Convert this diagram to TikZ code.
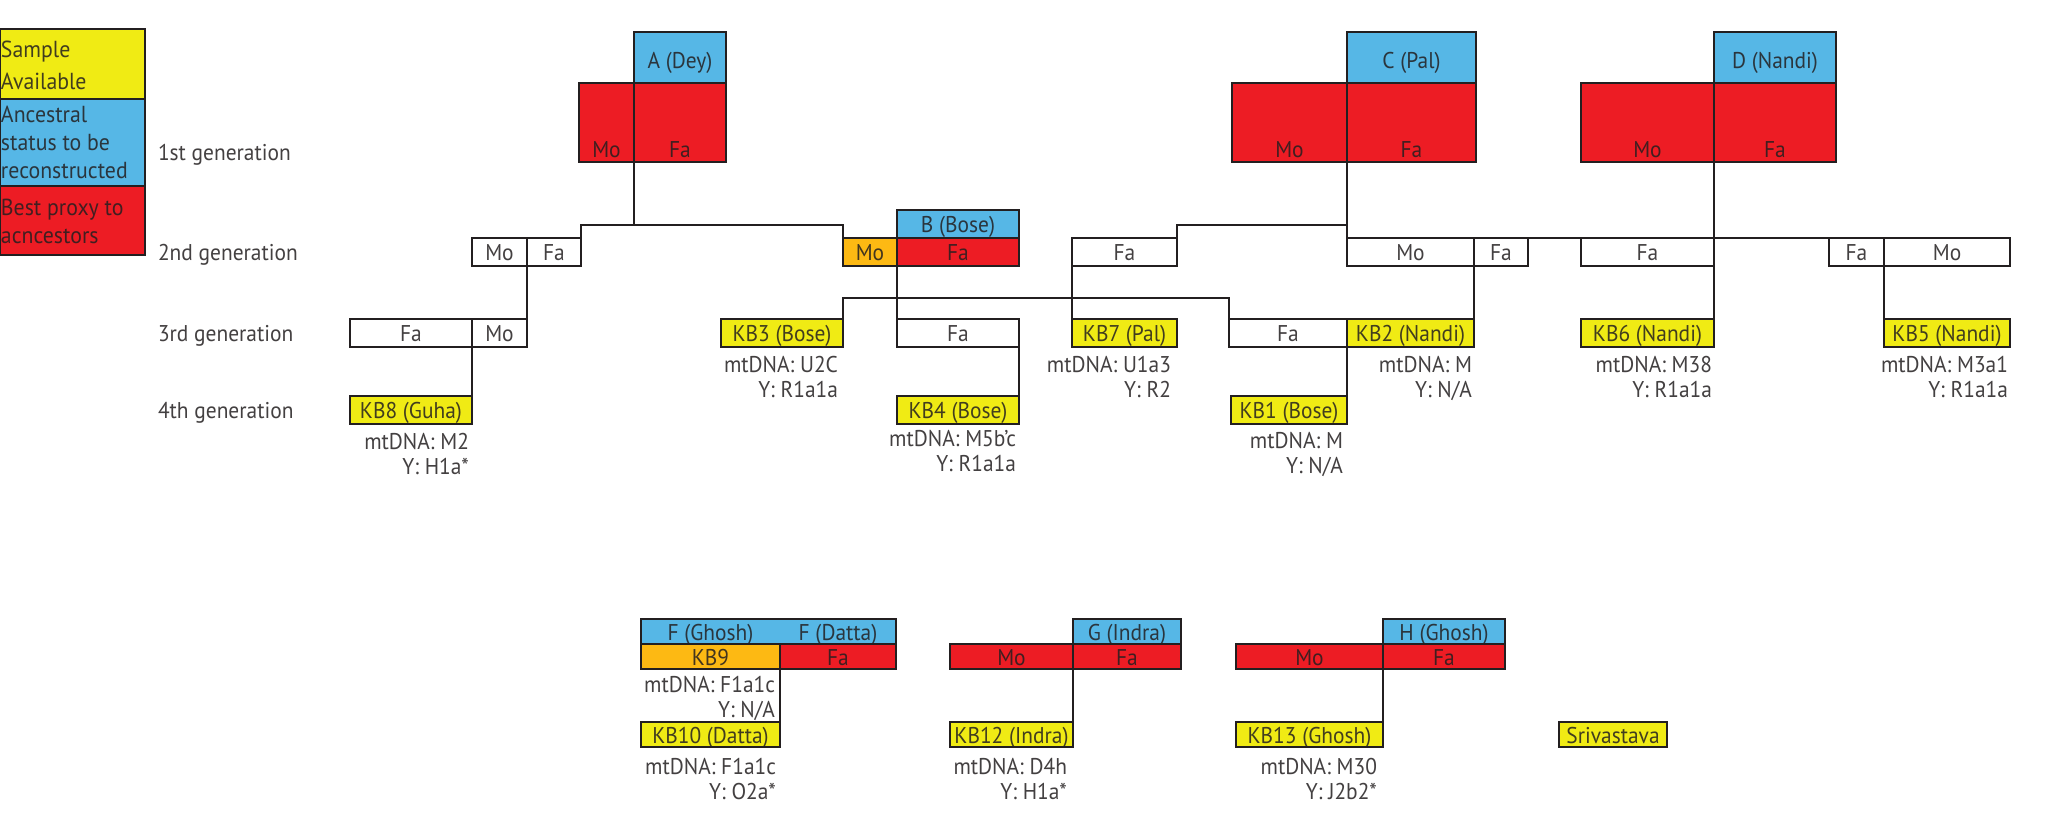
\documentclass[tikz,border=0pt]{standalone}
\usepackage{fontspec}
\setmainfont{PT Sans}[FakeStretch=0.94]
\usetikzlibrary{fit}
\definecolor{cy}{HTML}{F0EB14}
\definecolor{cb}{HTML}{56B7E6}
\definecolor{cr}{HTML}{ED1C24}
\definecolor{co}{HTML}{FDB913}
\definecolor{ink}{HTML}{231F20}
% name, style, corner1, corner2, text, baseline above bottom
\newcommand\cellnode[6]{\node[#2, fit={(#3)(#4)}] (#1) {};
  \node[lbl, anchor=base, yshift=#6] (#1t) at (#1.south) {#5};}
\begin{document}
\begin{tikzpicture}[x=0.5pt,y=-0.5pt,
 base/.style={inner sep=0pt, outer sep=0pt, font=\fontsize{11.4}{13}\selectfont, text=ink, text opacity=0.85},
 cell/.style={inner sep=0pt, outer sep=0pt, draw=ink, line width=0.65pt},
 bare/.style={inner sep=0pt, outer sep=0pt},
 yb/.style={fill=cy}, bb/.style={fill=cb}, rb/.style={fill=cr}, ob/.style={fill=co}, wb/.style={fill=white},
 lbl/.style={base},
 info/.style={base, align=right, font=\fontsize{11.4}{12.5}\selectfont, anchor=base east},
 link/.style={draw=ink, line width=0.65pt},
 thicklink/.style={draw=ink, line width=1.1pt}]
\useasboundingbox[fill=white] (0,0) rectangle (2046,816);

% legend
\node[cell,yb,fit={(0,29)(145,99)}] (legY) {};
\node[cell,bb,fit={(0,99)(145,186)}] (legB) {};
\node[cell,rb,fit={(0,186)(145,255)}] (legR) {};
\node[lbl, anchor=base west, align=left, font=\fontsize{11.6}{16}\selectfont] (legYt) at (1,89) {Sample\\Available};
\node[lbl, anchor=base west, align=left, font=\fontsize{11.6}{14}\selectfont] (legBt) at (1,178) {Ancestral\\status to be\\reconstructed};
\node[lbl, anchor=base west, align=left, font=\fontsize{11.6}{14}\selectfont] (legRt) at (1,243) {Best proxy to\\acncestors};

% generation labels
\node[lbl, anchor=base west] (gen1) at (158,160) {1st generation};
\node[lbl, anchor=base west] (gen2) at (158,260) {2nd generation};
\node[lbl, anchor=base west] (gen3) at (158,341) {3rd generation};
\node[lbl, anchor=base west] (gen4) at (158,418) {4th generation};

% 1st generation
\cellnode{aD}{cell,bb}{634,32}{726,83}{A (Dey)}{7.5pt}
\cellnode{aMo}{cell,rb}{579,83}{634,162}{Mo}{2.5pt}
\cellnode{aFa}{cell,rb}{634,83}{726,162}{Fa}{2.5pt}
\cellnode{cD}{cell,bb}{1347,32}{1476,83}{C (Pal)}{7.5pt}
\cellnode{cMo}{cell,rb}{1232,83}{1347,162}{Mo}{2.5pt}
\cellnode{cFa}{cell,rb}{1347,83}{1476,162}{Fa}{2.5pt}
\cellnode{dD}{cell,bb}{1714,32}{1836,83}{D (Nandi)}{7.5pt}
\cellnode{dMo}{cell,rb}{1581,83}{1714,162}{Mo}{2.5pt}
\cellnode{dFa}{cell,rb}{1714,83}{1836,162}{Fa}{2.5pt}

% 2nd generation
\cellnode{g2LMo}{cell,wb}{472,238}{527,266}{Mo}{3pt}
\cellnode{g2LFa}{cell,wb}{527,238}{581,266}{Fa}{3pt}
\cellnode{bD}{cell,bb}{897,210}{1019,238}{B (Bose)}{3pt}
\cellnode{bMo}{cell,ob}{843,238}{897,266}{Mo}{3pt}
\cellnode{bFa}{cell,rb}{897,238}{1019,266}{Fa}{3pt}
\cellnode{g2cFa}{cell,wb}{1072,238}{1177,266}{Fa}{3pt}
\cellnode{g2rMo}{cell,wb}{1347,238}{1474,266}{Mo}{3pt}
\cellnode{g2rFa}{cell,wb}{1474,238}{1528,266}{Fa}{3pt}
\cellnode{g2dFa}{cell,wb}{1581,238}{1714,266}{Fa}{3pt}
\cellnode{g2sFa}{cell,wb}{1829,238}{1884,266}{Fa}{3pt}
\cellnode{g2sMo}{cell,wb}{1884,238}{2010,266}{Mo}{3pt}

% 3rd generation
\cellnode{g3LFa}{cell,wb}{350,319}{472,347}{Fa}{3pt}
\cellnode{g3LMo}{cell,wb}{472,319}{527,347}{Mo}{3pt}
\cellnode{kb3}{cell,yb}{721,319}{843,347}{KB3 (Bose)}{3pt}
\cellnode{g3bFa}{cell,wb}{897,319}{1019,347}{Fa}{3pt}
\cellnode{kb7}{cell,yb}{1072,319}{1177,347}{KB7 (Pal)}{3pt}
\cellnode{g3kFa}{cell,wb}{1229,319}{1347,347}{Fa}{3pt}
\cellnode{kb2}{cell,yb}{1347,319}{1474,347}{KB2 (Nandi)}{3pt}
\cellnode{kb6}{cell,yb}{1581,319}{1714,347}{KB6 (Nandi)}{3pt}
\cellnode{kb5}{cell,yb}{1884,319}{2010,347}{KB5 (Nandi)}{3pt}

% 4th generation
\cellnode{kb8}{cell,yb}{350,396}{472,424}{KB8 (Guha)}{3pt}
\cellnode{kb4}{cell,yb}{897,396}{1019,424}{KB4 (Bose)}{3pt}
\cellnode{kb1}{cell,yb}{1231,396}{1347,424}{KB1 (Bose)}{3pt}

% haplogroup info (anchor = baseline of the last line)
\node[info] (kb3i) at (838,397) {mtDNA: U2C\\Y: R1a1a};
\node[info] (kb7i) at (1171,397) {mtDNA: U1a3\\Y: R2};
\node[info] (kb2i) at (1472,397) {mtDNA: M\\Y: N/A};
\node[info] (kb6i) at (1712,397) {mtDNA: M38\\Y: R1a1a};
\node[info] (kb5i) at (2008,397) {mtDNA: M3a1\\Y: R1a1a};
\node[info] (kb8i) at (469,474) {mtDNA: M2\\Y: H1a*};
\node[info] (kb4i) at (1016,471) {mtDNA: M5b’c\\Y: R1a1a};
\node[info] (kb1i) at (1343,473) {mtDNA: M\\Y: N/A};

% connectors, upper tree
\coordinate (jA) at (634,225);
\coordinate (jB) at (897,298);
\coordinate (jC) at (1347,225);
\draw[link] (aFa.south west) -- (jA);
\draw[link] (g2LFa.north east) -- (g2LFa.north east |- jA) -- (bMo.north west |- jA) -- (bMo.north west);
\draw[link] (g2LMo.south east) -- (g3LMo.north east);
\draw[thicklink] (g3LFa.south east) -- (kb8.north east);
\draw[link] (bFa.south west) -- (g3bFa.north west);
\draw[link] (kb3.north east) -- (kb3.north east |- jB) -- (g3kFa.north west |- jB) -- (g3kFa.north west);
\draw[link] (g3bFa.south east) -- (kb4.north east);
\draw[link] (g2cFa.south west) -- (kb7.north west);
\draw[link] (g2cFa.north east) |- (jC);
\draw[link] (cFa.south west) -- (g2rMo.north west);
\draw[link] (g2rFa.north east) -- (g2dFa.north west);
\draw[link] (g2dFa.north east) -- (g2sFa.north west);
\draw[link] (dFa.south west) -- (g2dFa.north east);
\draw[link] (g2dFa.south east) -- (kb6.north east);
\draw[link] (g2rMo.south east) -- (kb2.north east);
\draw[link] (g2sFa.south east) -- (kb5.north west);
\draw[link] (g3kFa.south east) -- (kb1.north east);

% lower families
\cellnode{fG}{bare,bb}{641,619}{780,644}{F (Ghosh)}{2pt}
\cellnode{fD}{bare,bb}{780,619}{896,644}{F (Datta)}{2pt}
\draw[link] (fG.north west) rectangle (fD.south east);
\cellnode{kb9}{cell,ob}{641,644}{780,669}{KB9}{2pt}
\cellnode{fFa}{cell,rb}{780,644}{896,669}{Fa}{2pt}
\node[info] (kb9i) at (775,717) {mtDNA: F1a1c\\Y: N/A};
\cellnode{kb10}{cell,yb}{641,722}{780,747}{KB10 (Datta)}{2pt}
\node[info] (kb10i) at (776,799) {mtDNA: F1a1c\\Y: O2a*};
\draw[link] (kb9.south east) -- (kb10.north east);

\cellnode{gD}{cell,bb}{1073,619}{1181,644}{G (Indra)}{2pt}
\cellnode{gMo}{cell,rb}{950,644}{1073,669}{Mo}{2pt}
\cellnode{gFa}{cell,rb}{1073,644}{1181,669}{Fa}{2pt}
\cellnode{kb12}{cell,yb}{950,722}{1073,747}{KB12 (Indra)}{2pt}
\node[info] (kb12i) at (1067,799) {mtDNA: D4h\\Y: H1a*};
\draw[link] (gMo.south east) -- (kb12.north east);

\cellnode{hD}{cell,bb}{1383,619}{1505,644}{H (Ghosh)}{2pt}
\cellnode{hMo}{cell,rb}{1236,644}{1383,669}{Mo}{2pt}
\cellnode{hFa}{cell,rb}{1383,644}{1505,669}{Fa}{2pt}
\cellnode{kb13}{cell,yb}{1236,722}{1383,747}{KB13 (Ghosh)}{2pt}
\node[info] (kb13i) at (1377,799) {mtDNA: M30\\Y: J2b2*};
\draw[link] (hMo.south east) -- (kb13.north east);

\cellnode{sriv}{cell,yb}{1559,722}{1667,747}{Srivastava}{2pt}
\end{tikzpicture}
\end{document}
